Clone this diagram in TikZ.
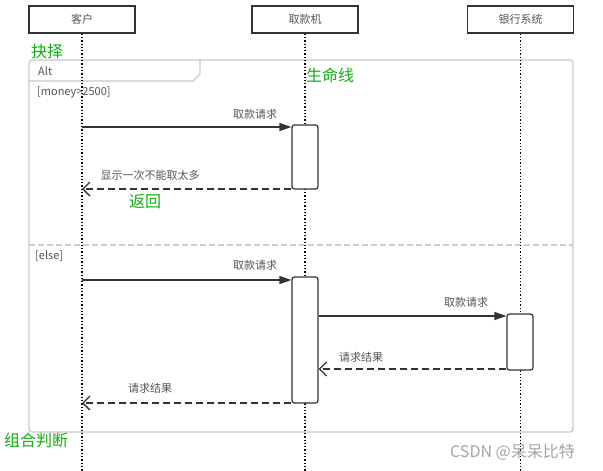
\documentclass[tikz,border=0pt]{standalone}
\usepackage{fontspec}
\setmainfont{Noto Sans CJK SC}
\usetikzlibrary{arrows.meta}
\definecolor{lineC}{HTML}{333333}
\definecolor{txtC}{HTML}{555555}
\definecolor{frameC}{HTML}{C8C8C8}
\definecolor{grn}{HTML}{10B010}
\tikzset{
  hdr/.style={draw=lineC, line width=1.3pt, minimum width=106pt, minimum height=27pt, inner sep=0pt, font=\fontsize{11}{13}\selectfont, text=txtC},
  life/.style={draw=black, line width=1.3pt, dash pattern=on 1.3pt off 2pt},
  act/.style={draw=lineC, fill=white, line width=1.2pt, rounded corners=2.5pt, minimum width=26pt, inner sep=0pt},
  msg/.style={draw=lineC, line width=1.3pt, -{Triangle[length=12pt,width=8pt]}},
  ret/.style={draw=lineC, line width=1.3pt, dash pattern=on 7pt off 4pt, -{Straight Barb[length=7pt,width=14pt,line width=1.3pt]}},
  lbl/.style={font=\fontsize{11}{13}\selectfont, text=txtC, inner sep=0pt},
  note/.style={font=\fontsize{16}{18}\selectfont, text=grn, inner sep=0pt},
}
\begin{document}
\begin{tikzpicture}[x=1pt,y=-1pt]
\useasboundingbox (0,0) rectangle (603,471);
\fill[white] (0,0) rectangle (603,471);
% Alt frame
\draw[frameC, line width=1.2pt, rounded corners=3pt] (29,60) rectangle (573,432);
\draw[frameC, line width=1.2pt] (200,60) -- (200,74) -- (193,81) -- (29,81);
\draw[frameC!90, line width=1.2pt, dash pattern=on 6pt off 3pt] (29,245) -- (573,245);
\node[lbl, anchor=west] (alt) at (38,71) {Alt};
\node[lbl, anchor=west] (g1) at (37,92) {[money>2500]};
\node[lbl, anchor=west] (g2) at (35,256) {[else]};
% headers
\node[hdr] (c) at (82,19.5) {客户};
\node[hdr] (m) at (305,19.5) {取款机};
\node[hdr] (b) at (520.5,19.5) {银行系统};
\coordinate (cend) at (82,471);
\coordinate (mend) at (305,471);
\coordinate (bend) at (520.5,471);
\draw[life] (c.south) -- (cend);
\draw[life] (m.south) -- (mend);
\draw[life] (b.south) -- (bend);
% activations
\node[act, minimum height=64pt] (a1) at (305,157) {};
\node[act, minimum height=126pt] (a2) at (305,340) {};
\node[act, minimum height=56pt] (a3) at (520,342) {};
% messages
\coordinate (s1) at (82,127);
\draw[msg] (s1) -- (s1 -| a1.west);
\node[lbl] (l1) at (255,114) {取款请求};
\coordinate (r1) at (82,189);
\draw[ret] (r1 -| a1.west) -- (r1);
\node[lbl] (l2) at (150,175) {显示一次不能取太多};
\coordinate (s2) at (82,280);
\draw[msg] (s2) -- (s2 -| a2.west);
\node[lbl] (l3) at (255,265) {取款请求};
\coordinate (s3) at (318,316);
\draw[msg] (a2.east |- s3) -- (s3 -| a3.west);
\node[lbl] (l4) at (466,302) {取款请求};
\coordinate (r3) at (318,369);
\draw[ret] (r3 -| a3.west) -- (a2.east |- r3);
\node[lbl] (l5) at (361,357) {请求结果};
\coordinate (r2) at (82,403);
\draw[ret] (r2 -| a2.west) -- (r2);
\node[lbl] (l6) at (150,388) {请求结果};
% green notes
\node[note, anchor=west] (n1) at (31,51) {抉择};
\node[note, anchor=west] (n2) at (306,75) {生命线};
\node[note, anchor=west] (n3) at (129,202) {返回};
\node[note, anchor=west] (n4) at (4,440) {组合判断};
% watermark
\node[font=\fontsize{16}{18}\selectfont, text=gray!70, inner sep=0pt, anchor=west] (wm) at (450,452) {CSDN @呆呆比特};
\end{tikzpicture}
\end{document}
